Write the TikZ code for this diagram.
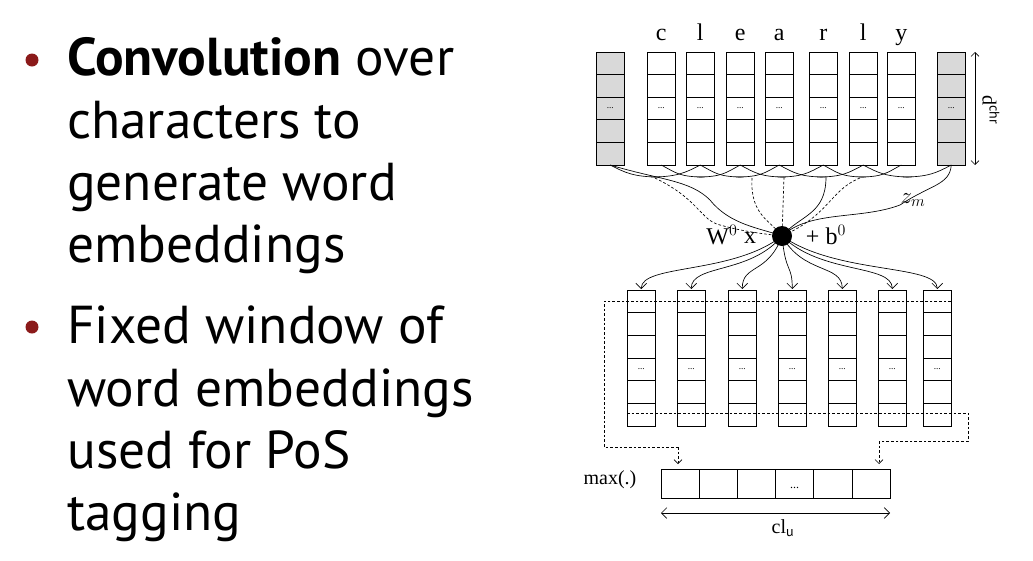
\documentclass[tikz,border=0pt]{standalone}
\usepackage{fontspec}
\setmainfont{PT Sans}
\newfontfamily\serif{Liberation Serif}
\usetikzlibrary{arrows.meta,calc}
\definecolor{bul}{HTML}{8B1A1A}
\begin{document}
\begin{tikzpicture}[x=0.75pt,y=-0.75pt,
  txt/.style={anchor=base west,inner sep=0pt,font=\fontsize{40}{46}\selectfont},
  cell/.style={draw,line width=0.6pt},
  lab/.style={font=\serif\fontsize{15}{18}\selectfont,inner sep=1pt},
  big/.style={font=\serif\fontsize{18}{20}\selectfont,inner sep=1pt},
  dt/.style={font=\serif\scriptsize,inner sep=0pt},
  conn/.style={line width=0.5pt},
  dconn/.style={line width=0.5pt,dashed,dash pattern=on 2pt off 1.5pt}]
\useasboundingbox (0,0) rectangle (1033,561);
% bullets
\fill[bul] (32,60) circle (6.5);
\fill[bul] (32,327) circle (6.5);
\node[txt] (t1) at (67,75) {\textbf{Convolution} over};
\node[txt] (t2) at (67,138) {characters to};
\node[txt] (t3) at (67,200) {generate word};
\node[txt] (t4) at (67,262) {embeddings};
\node[txt] (t5) at (67,343) {Fixed window of};
\node[txt] (t6) at (67,406) {word embeddings};
\node[txt] (t7) at (67,468) {used for PoS};
\node[txt] (t8) at (67,530) {tagging};
% top columns
\def\ch{22.6}
\foreach \x/\l [count=\i] in {596/,647/c,686/l,726/e,765/a,809/r,849/l,887/y,937/} {
  \ifnum\i=1 \def\fc{black!15}\else\ifnum\i=9 \def\fc{black!15}\else\def\fc{white}\fi\fi
  \foreach \k in {0,...,4} {
    \draw[cell,fill=\fc] (\x,52+\k*\ch) rectangle (\x+28.5,52+\k*\ch+\ch);
  }
  \node[dt] at (\x+14.25,52+2.5*\ch) {...};
  \coordinate (tb\i) at (\x+14.25,165);
  \node[big,anchor=base] (L\i) at (\x+14.25,40) {\l};
}
\draw[{Straight Barb[length=3pt]}-{Straight Barb[length=3pt]},line width=0.5pt] (975,52) -- (975,165);
\node[lab,rotate=-90] (dchr) at (991,110) {d$^{\mathrm{chr}}$};
% circle
\fill (782,236) circle (10);
\coordinate (C) at (782,236);
\node[big] (W) at (722,235) {W$^0$};
\node[big] (xx) at (750,238) {x};
\node[big] (bb) at (826,235) {+ b$^0$};
\node[big] (zm) at (913,200) {$z_m$};
% crossing arcs between columns
\foreach \a/\b in {1/3,2/4,3/5,4/6,5/7,6/8,7/9} {
  \draw[conn] (tb\a) .. controls +(15,8) and +(-25,0) .. ($ (tb\a)!0.55!(tb\b) + (0,12) $);
  \draw[conn] (tb\b) .. controls +(-15,8) and +(25,0) .. ($ (tb\a)!0.45!(tb\b) + (0,12) $);
}
% converging lines
\draw[conn] (tb1) .. controls (660,180) and (690,180) .. (710,200) .. controls (730,225) and (760,228) .. (C);
\draw[dconn] (655,178) .. controls (700,200) and (700,220) .. (720,225) .. controls (745,232) and (765,234) .. (C);
\draw[dconn] (752,178) .. controls (750,215) and (770,220) .. (C);
\draw[dconn] (784,177) -- (C);
\draw[conn] (826,177) .. controls (826,215) and (800,215) .. (C);
\draw[dconn] (860,178) .. controls (830,190) and (830,215) .. (C);
\draw[conn] (tb9) .. controls (950,185) and (930,185) .. (900,205) .. controls (860,220) and (810,210) .. (C);
% bottom columns
\foreach \x [count=\j] in {627,677,728,778,828,878,923} {
  \foreach \k in {0,...,5} {
    \draw[cell] (\x,290+\k*22.7) rectangle (\x+28.5,290+\k*22.7+22.7);
  }
  \node[dt] at (\x+14.25,290+3.5*22.7) {...};
  \coordinate (bt\j) at (\x+14.25,289);
  \draw[conn,-{Straight Barb[length=4pt]}] (C) .. controls ($ (C)!0.35!(bt\j) + (0,20) $) and ($ (bt\j) + (0,-25) $) .. (bt\j);
}
% dashed window
\draw[dconn] (951,301) -- (604,301) -- (604,447) -- (678,447) coordinate (la);
\draw[dconn,-{Straight Barb[length=3pt]}] (la) -- (678,464);
\draw[dconn] (627,413) -- (968,413) -- (968,441) -- (879,441) coordinate (ra);
\draw[dconn,-{Straight Barb[length=3pt]}] (ra) -- (879,464);
% max box
\foreach \k in {0,...,5} {
  \draw[cell] (661+\k*38.2,469) rectangle (661+\k*38.2+38.2,498);
}
\node[dt,font=\serif\small] at (661+3.5*38.2,488) {...};
\node[lab] (mx) at (610,480) {max(.)};
\draw[{Straight Barb[length=4pt]}-{Straight Barb[length=4pt]},line width=0.5pt] (661,513) -- (890,513);
\node[lab] (cl) at (783,528) {cl$_{\mathrm{u}}$};
\end{tikzpicture}
\end{document}
